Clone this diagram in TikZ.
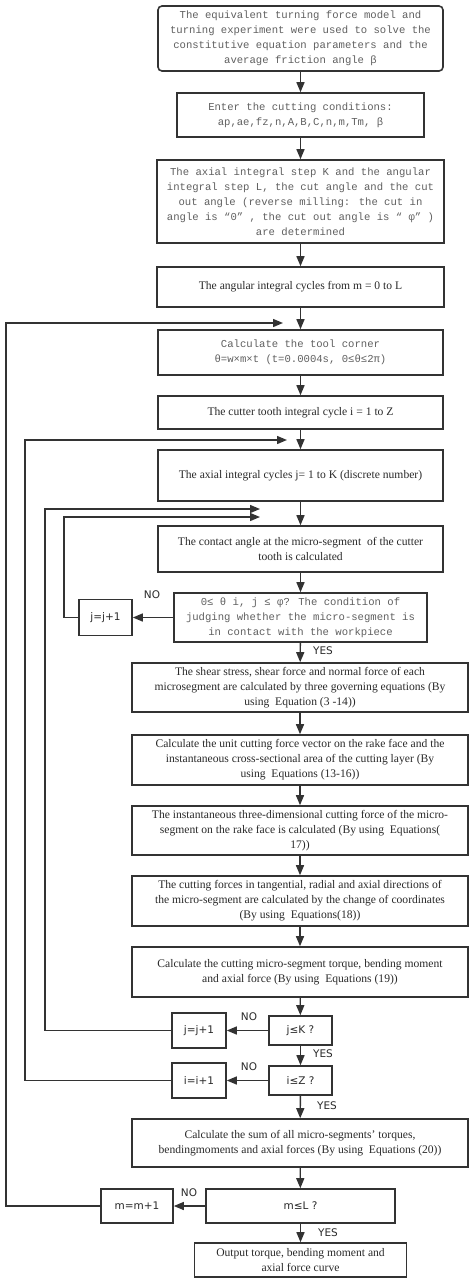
\documentclass[tikz,border=0pt]{standalone}
\usepackage{fontspec}
\setmainfont{Liberation Serif}
\newfontfamily\monof{Liberation Mono}
\newfontfamily\sansf{DejaVu Sans}
\usetikzlibrary{arrows.meta}
\definecolor{ln}{HTML}{333333}
\definecolor{mtxt}{HTML}{606060}
\definecolor{stxt}{HTML}{2A2A2A}
\begin{document}
\begin{tikzpicture}[x=1pt,y=-1pt,
  box/.style={draw=ln,line width=1.6pt,inner sep=0pt,align=center,anchor=center},
  mbox/.style={box,font=\monof\fontsize{10.6}{15}\selectfont,text=mtxt},
  sbox/.style={box,font=\fontsize{11.6}{15}\selectfont,text=stxt},
  lbox/.style={box,font=\sansf\fontsize{10.5}{13}\selectfont,text=stxt},
  lab/.style={font=\sansf\fontsize{10.5}{13}\selectfont,text=stxt,inner sep=0pt},
  arr/.style={draw=ln,line width=1.4pt,-{Triangle[length=10pt,width=8pt]}}]
\useasboundingbox (0,0) rectangle (474,1283);
\fill[white] (0,0) rectangle (474,1283);

\node[mbox,rounded corners=4pt,minimum width=285pt,minimum height=65pt] (b1) at (300.5,38.5)
 {The equivalent turning force model and\\turning experiment were used to solve the\\constitutive equation parameters and the\\average friction angle β};
\node[mbox,minimum width=247pt,minimum height=44pt] (b2) at (300.5,115)
 {Enter the cutting conditions:\\ap,ae,fz,n,A,B,C,n,m,Tm, β};
\node[mbox,minimum width=287pt,minimum height=83pt] (b3) at (300.5,201.5)
 {The axial integral step K and the angular\\integral step L, the cut angle and the cut\\out angle (reverse milling: the cut in\\angle is “0” , the cut out angle is “ φ” )\\are determined};
\node[sbox,minimum width=287pt,minimum height=40pt] (b4) at (300.5,287)
 {The angular integral cycles from m = 0 to L};
\node[mbox,minimum width=285pt,minimum height=45pt] (b5) at (300.5,352.5)
 {Calculate the tool corner\\θ=w×m×t (t=0.0004s, 0≤θ≤2π)};
\node[sbox,minimum width=285pt,minimum height=33pt] (b6) at (300.5,412.5)
 {The cutter tooth integral cycle i = 1 to Z};
\node[sbox,minimum width=285pt,minimum height=51pt] (b7) at (300.5,475.5)
 {The axial integral cycles j= 1 to K (discrete number)};
\node[sbox,minimum width=285pt,minimum height=46pt] (b8) at (300.5,549)
 {The contact angle at the micro-segment\ \ of the cutter\\tooth is calculated};
\node[mbox,minimum width=253pt,minimum height=49pt] (b9) at (300.5,617.5)
 {0≤ θ i, j ≤ φ? The condition of\\judging whether the micro-segment is\\in contact with the workpiece};
\node[lbox,minimum width=53pt,minimum height=36pt] (jb1) at (105.5,617.5) {j=j+1};
\node[sbox,minimum width=336pt,minimum height=49pt] (b10) at (300,687.5)
 {The shear stress, shear force and normal force of each\\microsegment are calculated by three governing equations (By\\using\ \ Equation (3 -14))};
\node[sbox,minimum width=336pt,minimum height=50pt] (b11) at (300,760)
 {Calculate the unit cutting force vector on the rake face and the\\instantaneous cross-sectional area of the cutting layer (By\\using\ \ Equations (13-16))};
\node[sbox,minimum width=336pt,minimum height=49pt] (b12) at (300,830.5)
 {The instantaneous three-dimensional cutting force of the micro-\\segment on the rake face is calculated (By using\ \ Equations(\\17))};
\node[sbox,minimum width=336pt,minimum height=50pt] (b13) at (300,901)
 {The cutting forces in tangential, radial and axial directions of\\the micro-segment are calculated by the change of coordinates\\(By using\ \ Equations(18))};
\node[sbox,minimum width=336pt,minimum height=50pt] (b14) at (300,972)
 {Calculate the cutting micro-segment torque, bending moment\\and axial force (By using\ \ Equations (19))};
\node[lbox,minimum width=63pt,minimum height=29pt] (jk) at (300.5,1030.5) {j≤K ?};
\node[lbox,minimum width=54pt,minimum height=35pt] (jb2) at (199,1030.5) {j=j+1};
\node[lbox,minimum width=63pt,minimum height=29pt] (iz) at (300.5,1080.5) {i≤Z ?};
\node[lbox,minimum width=54pt,minimum height=35pt] (ib) at (199,1080.5) {i=i+1};
\node[sbox,minimum width=336pt,minimum height=48pt] (sum) at (300,1143)
 {Calculate the sum of all micro-segments' torques,\\bendingmoments and axial forces (By using\ \ Equations (20))};
\node[lbox,minimum width=189pt,minimum height=34pt] (ml) at (300.5,1206) {m≤L ?};
\node[lbox,minimum width=72pt,minimum height=34pt] (mb) at (137,1206) {m=m+1};
\node[sbox,minimum width=212pt,minimum height=34pt] (out) at (300.5,1260)
 {Output torque, bending moment and\\axial force curve};

% main flow
\draw[arr] (b1) -- (b2);
\draw[arr] (b2) -- (b3);
\draw[arr] (b3) -- (b4);
\draw[arr] (b4) -- (b5);
\draw[arr] (b5) -- (b6);
\draw[arr] (b6) -- (b7);
\draw[arr] (b7) -- (b8);
\draw[arr] (b8) -- (b9);
\draw[arr] (b9) -- (b10);
\draw[arr] (b10) -- (b11);
\draw[arr] (b11) -- (b12);
\draw[arr] (b12) -- (b13);
\draw[arr] (b13) -- (b14);
\draw[arr] (b14) -- (jk);
\draw[arr] (jk) -- (iz);
\draw[arr] (iz) -- (sum);
\draw[arr] (sum) -- (ml);
\draw[arr] (ml) -- (out);
% NO branches
\draw[arr] (b9) -- (jb1);
\draw[arr] (jk) -- (jb2);
\draw[arr] (iz) -- (ib);
\draw[arr] (ml) -- (mb);
% loops
\coordinate (lj2) at (64,517);  \coordinate (tj2) at (260,517);
\coordinate (lj1) at (45,509);  \coordinate (tj1) at (260,509);
\coordinate (li) at (25,440);   \coordinate (ti) at (287,440);
\coordinate (lm) at (6,323);    \coordinate (tm) at (283,323);
\draw[arr] (jb1.west) -| (lj2) -- (tj2);
\draw[arr] (jb2.west) -| (lj1) -- (tj1);
\draw[arr] (ib.west) -| (li) -- (ti);
\draw[arr] (mb.west) -| (lm) -- (tm);

% labels
\node[lab] (no1) at (152,595) {NO};
\node[lab] (no2) at (249,1017) {NO};
\node[lab] (no3) at (249,1067) {NO};
\node[lab] (no4) at (189,1193) {NO};
\node[lab] (yes1) at (323,651) {YES};
\node[lab] (yes2) at (323,1054) {YES};
\node[lab] (yes3) at (327,1106) {YES};
\node[lab] (yes4) at (328,1233) {YES};
\end{tikzpicture}
\end{document}
